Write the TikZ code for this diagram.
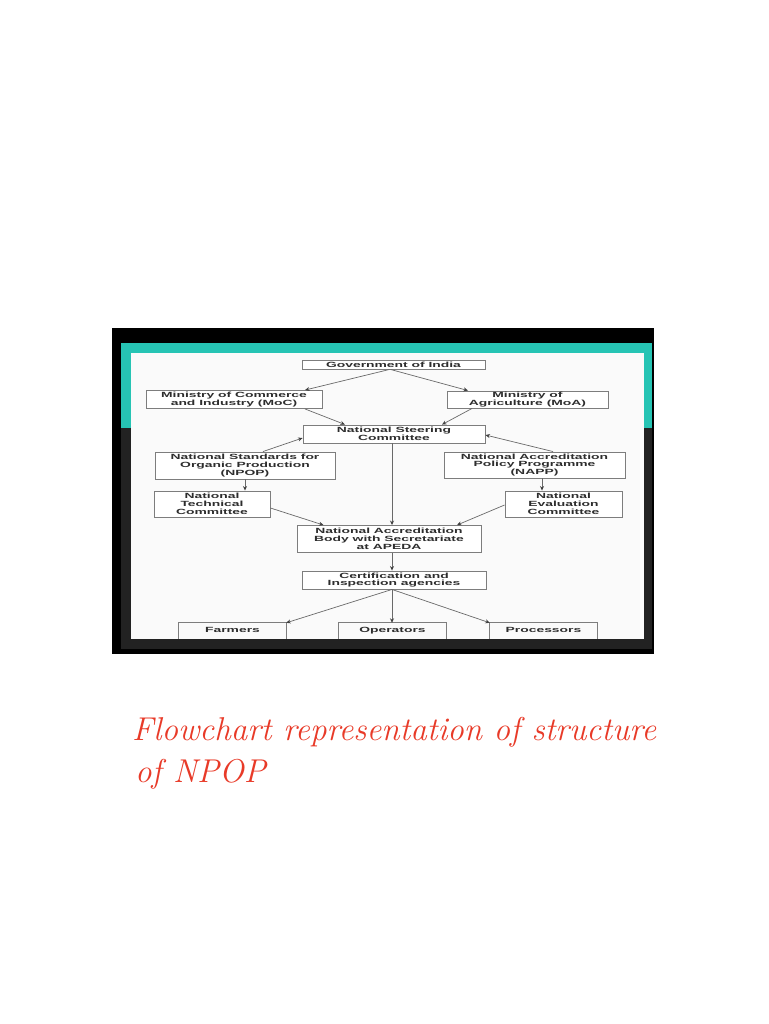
\documentclass[tikz,border=0pt]{standalone}
\usepackage{fontspec}
\usetikzlibrary{arrows.meta}
\newfontfamily\boxfont[FakeStretch=1.85]{Liberation Sans}
\definecolor{tealband}{RGB}{38,196,180}
\definecolor{frameg}{RGB}{34,34,34}
\definecolor{panel}{RGB}{250,250,250}
\definecolor{boxline}{RGB}{125,125,125}
\definecolor{txt}{RGB}{45,45,45}
\definecolor{arr}{RGB}{105,105,105}
\definecolor{ink}{RGB}{232,58,40}
\tikzset{
  boxtext/.style={inner sep=0pt, align=center, text=txt,
    font=\boxfont\bfseries\fontsize{7.5}{7.8}\selectfont},
  box/.style={boxtext, draw=boxline, line width=0.9pt, fill=white},
  leafbox/.style={boxtext, text height=5.5pt, text depth=1.6pt,
    minimum width=107pt, minimum height=16pt},
  conn/.style={draw=arr, line width=0.7pt,
    -{Stealth[length=4.5pt,width=4pt,color=black!75]}},
  handw/.style={inner sep=0pt, anchor=base west, text=ink,
    font=\itshape\fontsize{33}{33}\selectfont},
}
\begin{document}
\begin{tikzpicture}[x=1pt,y=-1pt]
\useasboundingbox (0,0) rectangle (768,1024);
% frame
\fill[black] (112,328) rectangle (654,654);
\fill[frameg] (121,343) rectangle (652,649);
\fill[tealband] (121,343) rectangle (652,428);
\fill[panel] (131,353) rectangle (644,639);

% nodes
\node[box, minimum width=183pt, minimum height=9pt] (gov) at (393.5,364.5) {Government of India};
\node[box, minimum width=176pt, minimum height=18pt] (moc) at (234,399.5) {Ministry of Commerce\\and Industry (MoC)};
\node[box, minimum width=161pt, minimum height=17pt] (moa) at (527.5,399.5) {Ministry of\\Agriculture (MoA)};
\node[box, minimum width=182pt, minimum height=18pt] (nsc) at (394,434) {National Steering\\Committee};
\node[box, minimum width=180pt, minimum height=27pt] (npop) at (245,465.5) {National Standards for\\Organic Production\\(NPOP)};
\node[box, minimum width=181pt, minimum height=26pt] (napp) at (534.5,465) {National Accreditation\\Policy Programme\\(NAPP)};
\node[box, minimum width=116pt, minimum height=26pt] (ntc) at (212,504) {National\\Technical\\Committee};
\node[box, minimum width=117pt, minimum height=26pt] (nec) at (563.5,504) {National\\Evaluation\\Committee};
\node[box, minimum width=184pt, minimum height=27pt] (nab) at (389,539) {National Accreditation\\Body with Secretariate\\at APEDA};
\node[box, minimum width=184pt, minimum height=18pt] (cert) at (394,580) {Certification and\\Inspection agencies};
\node[leafbox] (farm) at (232.5,631) {Farmers};
\node[leafbox] (oper) at (392.5,631) {Operators};
\node[leafbox] (proc) at (543.5,631) {Processors};
\foreach \b in {farm,oper,proc}
  \draw[boxline, line width=0.9pt] (\b.south west) -- (\b.north west) -- (\b.north east) -- (\b.south east);

% connectors
\draw[conn] ([xshift=-4pt]gov.south) -- ([xshift=71pt]moc.north);
\draw[conn] ([xshift=-3pt]gov.south) -- ([xshift=-59.5pt]moa.north);
\draw[conn] ([xshift=71pt]moc.south) -- ([xshift=-49pt]nsc.north);
\draw[conn] ([xshift=-55.5pt]moa.south) -- ([xshift=48pt]nsc.north);
\draw[conn] ([xshift=18pt]npop.north) -- ([yshift=-4pt]nsc.west);
\draw[conn] ([xshift=18.5pt]napp.north) -- ([yshift=-1pt]nsc.east);
\draw[conn] (npop.south) -- (npop.south |- ntc.north);
\draw[conn] ([xshift=7.5pt]napp.south) -- ([xshift=7.5pt]napp.south |- nec.north);
\draw[conn] ([yshift=-4pt]ntc.east) -- ([xshift=-65.5pt]nab.north);
\draw[conn] ([yshift=-1pt]nec.west) -- ([xshift=68pt]nab.north);
\draw[conn] ([xshift=-2pt]nsc.south) -- ([xshift=-2pt]nsc.south |- nab.north);
\draw[conn] ([xshift=3pt]nab.south) -- ([xshift=3pt]nab.south |- cert.north);
\draw[conn] ([xshift=-2pt]cert.south) -- (farm.north east);
\draw[conn] ([xshift=-2pt]cert.south) -- ([xshift=-2pt]cert.south |- oper.north);
\draw[conn] ([xshift=-2pt]cert.south) -- (proc.north west);

% handwritten caption
\node[handw] (cap1) at (132,740) {Flowchart representation of structure};
\node[handw] (cap2) at (135,782) {of NPOP};
\end{tikzpicture}
\end{document}
